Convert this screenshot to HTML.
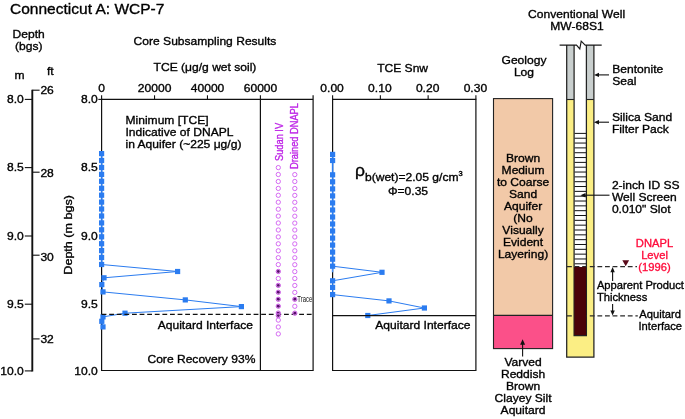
<!DOCTYPE html>
<html><head><meta charset="utf-8"><title>Connecticut A: WCP-7</title>
<style>
html,body{margin:0;padding:0;background:#fff;}
svg{display:block;font-family:"Liberation Sans",Arial,Helvetica,sans-serif;}
text{stroke-width:0.34px;paint-order:stroke;}
</style></head><body>
<svg width="685" height="419" viewBox="0 0 685 419">
<rect width="685" height="419" fill="#fff"/>
<text transform="translate(10,13.5) scale(1.015,1)" font-size="15.3" text-anchor="start" fill="#000" stroke="#000" >Connecticut A: WCP-7</text>
<text transform="translate(12.6,37.6) scale(1.032,1)" font-size="11.7" text-anchor="start" fill="#000" stroke="#000" >Depth</text>
<text transform="translate(15,49.7) scale(1.032,1)" font-size="11.7" text-anchor="start" fill="#000" stroke="#000" >(bgs)</text>
<text transform="translate(14.4,79.2) scale(1.032,1)" font-size="11.7" text-anchor="start" fill="#000" stroke="#000" >m</text>
<text transform="translate(47,75.2) scale(1.032,1)" font-size="11.7" text-anchor="start" fill="#000" stroke="#000" >ft</text>
<text transform="translate(205,44.5) scale(1.032,1)" font-size="11.7" text-anchor="middle" fill="#000" stroke="#000" >Core Subsampling Results</text>
<text transform="translate(205,70.9) scale(1.032,1)" font-size="11.7" text-anchor="middle" fill="#000" stroke="#000" >TCE (μg/g wet soil)</text>
<text transform="translate(402.6,71.5) scale(1.032,1)" font-size="11.7" text-anchor="middle" fill="#000" stroke="#000" >TCE Snw</text>
<line x1="32.3" y1="89.7" x2="32.3" y2="371.4" stroke="#111" stroke-width="1.9" />
<line x1="24.8" y1="99.4" x2="32.3" y2="99.4" stroke="#111" stroke-width="1.1" />
<text transform="translate(23.7,102.9) scale(1.032,1)" font-size="11.7" text-anchor="end" fill="#000" stroke="#000" >8.0</text>
<line x1="24.8" y1="167.6" x2="32.3" y2="167.6" stroke="#111" stroke-width="1.1" />
<text transform="translate(23.7,171.2) scale(1.032,1)" font-size="11.7" text-anchor="end" fill="#000" stroke="#000" >8.5</text>
<line x1="24.8" y1="236.0" x2="32.3" y2="236.0" stroke="#111" stroke-width="1.1" />
<text transform="translate(23.7,239.9) scale(1.032,1)" font-size="11.7" text-anchor="end" fill="#000" stroke="#000" >9.0</text>
<line x1="24.8" y1="304.2" x2="32.3" y2="304.2" stroke="#111" stroke-width="1.1" />
<text transform="translate(23.7,308.0) scale(1.032,1)" font-size="11.7" text-anchor="end" fill="#000" stroke="#000" >9.5</text>
<line x1="24.8" y1="370.9" x2="32.3" y2="370.9" stroke="#111" stroke-width="1.1" />
<text transform="translate(23.7,375.2) scale(1.032,1)" font-size="11.7" text-anchor="end" fill="#000" stroke="#000" >10.0</text>
<line x1="32.3" y1="90.2" x2="39.6" y2="90.2" stroke="#111" stroke-width="1.1" />
<text transform="translate(40.4,94.4) scale(1.032,1)" font-size="11.7" text-anchor="start" fill="#000" stroke="#000" >26</text>
<line x1="32.3" y1="172.2" x2="39.6" y2="172.2" stroke="#111" stroke-width="1.1" />
<text transform="translate(40.4,177.0) scale(1.032,1)" font-size="11.7" text-anchor="start" fill="#000" stroke="#000" >28</text>
<line x1="32.3" y1="255.2" x2="39.6" y2="255.2" stroke="#111" stroke-width="1.1" />
<text transform="translate(40.4,260.8) scale(1.032,1)" font-size="11.7" text-anchor="start" fill="#000" stroke="#000" >30</text>
<line x1="32.3" y1="338.9" x2="39.6" y2="338.9" stroke="#111" stroke-width="1.1" />
<text transform="translate(40.4,342.6) scale(1.032,1)" font-size="11.7" text-anchor="start" fill="#000" stroke="#000" >32</text>
<line x1="101.6" y1="99.4" x2="313.1" y2="99.4" stroke="#111" stroke-width="1.2" />
<line x1="101.6" y1="370.45" x2="313.1" y2="370.45" stroke="#111" stroke-width="1.05" />
<line x1="101.6" y1="98.80000000000001" x2="101.6" y2="371.05" stroke="#111" stroke-width="1.2" />
<line x1="313.1" y1="95.30000000000001" x2="313.1" y2="370.95" stroke="#111" stroke-width="1.2" />
<line x1="260.4" y1="99.4" x2="260.4" y2="370.45" stroke="#111" stroke-width="1.2" />
<line x1="101.6" y1="95.30000000000001" x2="101.6" y2="99.4" stroke="#111" stroke-width="1.1" />
<text transform="translate(101.69999999999999,91.7) scale(1.032,1)" font-size="11.7" text-anchor="middle" fill="#000" stroke="#000" >0</text>
<line x1="154.5333333333333" y1="95.30000000000001" x2="154.5333333333333" y2="99.4" stroke="#111" stroke-width="1.1" />
<text transform="translate(154.6333333333333,91.7) scale(1.032,1)" font-size="11.7" text-anchor="middle" fill="#000" stroke="#000" >20000</text>
<line x1="207.46666666666664" y1="95.30000000000001" x2="207.46666666666664" y2="99.4" stroke="#111" stroke-width="1.1" />
<text transform="translate(207.56666666666663,91.7) scale(1.032,1)" font-size="11.7" text-anchor="middle" fill="#000" stroke="#000" >40000</text>
<line x1="260.4" y1="95.30000000000001" x2="260.4" y2="99.4" stroke="#111" stroke-width="1.1" />
<text transform="translate(260.5,91.7) scale(1.032,1)" font-size="11.7" text-anchor="middle" fill="#000" stroke="#000" >60000</text>
<line x1="98.3" y1="99.4" x2="101.6" y2="99.4" stroke="#111" stroke-width="1.1" />
<text transform="translate(97.8,102.9) scale(1.032,1)" font-size="11.7" text-anchor="end" fill="#000" stroke="#000" >8.0</text>
<text transform="translate(97.8,171.2) scale(1.032,1)" font-size="11.7" text-anchor="end" fill="#000" stroke="#000" >8.5</text>
<text transform="translate(97.8,239.9) scale(1.032,1)" font-size="11.7" text-anchor="end" fill="#000" stroke="#000" >9.0</text>
<text transform="translate(97.8,308.0) scale(1.032,1)" font-size="11.7" text-anchor="end" fill="#000" stroke="#000" >9.5</text>
<text transform="translate(97.8,375.2) scale(1.032,1)" font-size="11.7" text-anchor="end" fill="#000" stroke="#000" >10.0</text>
<text transform="translate(71.9,234.9) rotate(-90) scale(1.075,1.0)" font-size="11.7" text-anchor="middle" stroke="#000">Depth (m bgs)</text>
<line x1="101.6" y1="153.6" x2="101.6" y2="264.48" stroke="#4a92f4" stroke-width="1.6"/>
<polyline fill="none" stroke="#2b7cf0" stroke-width="1" points="101.6,153.6 101.6,160.5 101.6,167.5 101.6,174.4 101.6,181.3 101.6,188.2 101.6,195.2 101.6,202.1 101.6,209.0 101.6,216.0 101.6,222.9 101.6,229.8 101.6,236.8 101.6,243.7 101.6,250.6 101.6,257.5 101.6,264.5 177.6,271.5 104.0,277.8 101.8,284.6 103.0,291.9 185.3,299.9 241.4,306.6 125.0,313.2 103.0,316.9 101.8,321.3 103.0,326.9"/>
<rect x="99.0" y="151.0" width="5.2" height="5.2" fill="#2b7cf0"/>
<rect x="99.0" y="157.9" width="5.2" height="5.2" fill="#2b7cf0"/>
<rect x="99.0" y="164.9" width="5.2" height="5.2" fill="#2b7cf0"/>
<rect x="99.0" y="171.8" width="5.2" height="5.2" fill="#2b7cf0"/>
<rect x="99.0" y="178.7" width="5.2" height="5.2" fill="#2b7cf0"/>
<rect x="99.0" y="185.7" width="5.2" height="5.2" fill="#2b7cf0"/>
<rect x="99.0" y="192.6" width="5.2" height="5.2" fill="#2b7cf0"/>
<rect x="99.0" y="199.5" width="5.2" height="5.2" fill="#2b7cf0"/>
<rect x="99.0" y="206.4" width="5.2" height="5.2" fill="#2b7cf0"/>
<rect x="99.0" y="213.4" width="5.2" height="5.2" fill="#2b7cf0"/>
<rect x="99.0" y="220.3" width="5.2" height="5.2" fill="#2b7cf0"/>
<rect x="99.0" y="227.2" width="5.2" height="5.2" fill="#2b7cf0"/>
<rect x="99.0" y="234.2" width="5.2" height="5.2" fill="#2b7cf0"/>
<rect x="99.0" y="241.1" width="5.2" height="5.2" fill="#2b7cf0"/>
<rect x="99.0" y="248.0" width="5.2" height="5.2" fill="#2b7cf0"/>
<rect x="99.0" y="254.9" width="5.2" height="5.2" fill="#2b7cf0"/>
<rect x="99.0" y="261.9" width="5.2" height="5.2" fill="#2b7cf0"/>
<rect x="175.0" y="268.9" width="5.2" height="5.2" fill="#2b7cf0"/>
<rect x="101.4" y="275.2" width="5.2" height="5.2" fill="#2b7cf0"/>
<rect x="99.2" y="282.0" width="5.2" height="5.2" fill="#2b7cf0"/>
<rect x="100.4" y="289.3" width="5.2" height="5.2" fill="#2b7cf0"/>
<rect x="182.7" y="297.3" width="5.2" height="5.2" fill="#2b7cf0"/>
<rect x="238.8" y="304.0" width="5.2" height="5.2" fill="#2b7cf0"/>
<rect x="122.4" y="310.6" width="5.2" height="5.2" fill="#2b7cf0"/>
<rect x="100.4" y="314.3" width="5.2" height="5.2" fill="#2b7cf0"/>
<rect x="99.2" y="318.7" width="5.2" height="5.2" fill="#2b7cf0"/>
<rect x="100.4" y="324.3" width="5.2" height="5.2" fill="#2b7cf0"/>
<line x1="101.6" y1="314.3" x2="313.1" y2="314.3" stroke="#111" stroke-width="1.2" stroke-dasharray="4.8,2.8"/>
<text transform="translate(205.3,328.5) scale(1.032,1)" font-size="11.7" text-anchor="middle" fill="#000" stroke="#000" >Aquitard Interface</text>
<text transform="translate(201.4,362.5) scale(1.032,1)" font-size="11.7" text-anchor="middle" fill="#000" stroke="#000" >Core Recovery 93%</text>
<text transform="translate(125.5,123.6) scale(1.032,1)" font-size="11.7" text-anchor="start" fill="#000" stroke="#000" >Minimum [TCE]</text>
<text transform="translate(125.5,135.9) scale(1.032,1)" font-size="11.7" text-anchor="start" fill="#000" stroke="#000" >Indicative of DNAPL</text>
<text transform="translate(125.5,148.1) scale(1.032,1)" font-size="11.7" text-anchor="start" fill="#000" stroke="#000" >in Aquifer (~225 μg/g)</text>
<circle cx="278.3" cy="167.6" r="2.15" fill="#fff" stroke="#d05cf0" stroke-width="0.9"/>
<circle cx="278.3" cy="174.5" r="2.15" fill="#fff" stroke="#d05cf0" stroke-width="0.9"/>
<circle cx="278.3" cy="181.5" r="2.15" fill="#fff" stroke="#d05cf0" stroke-width="0.9"/>
<circle cx="278.3" cy="188.4" r="2.15" fill="#fff" stroke="#d05cf0" stroke-width="0.9"/>
<circle cx="278.3" cy="195.3" r="2.15" fill="#fff" stroke="#d05cf0" stroke-width="0.9"/>
<circle cx="278.3" cy="202.2" r="2.15" fill="#fff" stroke="#d05cf0" stroke-width="0.9"/>
<circle cx="278.3" cy="209.2" r="2.15" fill="#fff" stroke="#d05cf0" stroke-width="0.9"/>
<circle cx="278.3" cy="216.1" r="2.15" fill="#fff" stroke="#d05cf0" stroke-width="0.9"/>
<circle cx="278.3" cy="223.0" r="2.15" fill="#fff" stroke="#d05cf0" stroke-width="0.9"/>
<circle cx="278.3" cy="230.0" r="2.15" fill="#fff" stroke="#d05cf0" stroke-width="0.9"/>
<circle cx="278.3" cy="236.9" r="2.15" fill="#fff" stroke="#d05cf0" stroke-width="0.9"/>
<circle cx="278.3" cy="243.8" r="2.15" fill="#fff" stroke="#d05cf0" stroke-width="0.9"/>
<circle cx="278.3" cy="250.8" r="2.15" fill="#fff" stroke="#d05cf0" stroke-width="0.9"/>
<circle cx="278.3" cy="257.7" r="2.15" fill="#fff" stroke="#d05cf0" stroke-width="0.9"/>
<circle cx="278.3" cy="264.6" r="2.15" fill="#fff" stroke="#d05cf0" stroke-width="0.9"/>
<circle cx="278.3" cy="271.5" r="2.15" fill="#fff" stroke="#c040dc" stroke-width="0.9"/>
<circle cx="278.3" cy="271.5" r="1.45" fill="#5a0a70"/>
<circle cx="278.3" cy="278.5" r="2.15" fill="#fff" stroke="#d05cf0" stroke-width="0.9"/>
<circle cx="278.3" cy="285.4" r="2.15" fill="#fff" stroke="#c040dc" stroke-width="0.9"/>
<circle cx="278.3" cy="285.4" r="1.45" fill="#5a0a70"/>
<circle cx="278.3" cy="292.3" r="2.15" fill="#fff" stroke="#c040dc" stroke-width="0.9"/>
<circle cx="278.3" cy="292.3" r="1.45" fill="#5a0a70"/>
<circle cx="278.3" cy="299.3" r="2.15" fill="#fff" stroke="#c040dc" stroke-width="0.9"/>
<circle cx="278.3" cy="299.3" r="1.45" fill="#5a0a70"/>
<circle cx="278.3" cy="306.2" r="2.15" fill="#fff" stroke="#c040dc" stroke-width="0.9"/>
<circle cx="278.3" cy="306.2" r="1.45" fill="#5a0a70"/>
<circle cx="278.3" cy="313.1" r="2.15" fill="#fff" stroke="#c040dc" stroke-width="0.9"/>
<circle cx="278.3" cy="313.1" r="1.45" fill="#5a0a70"/>
<circle cx="278.3" cy="320.1" r="2.15" fill="#fff" stroke="#d05cf0" stroke-width="0.9"/>
<circle cx="278.3" cy="327.0" r="2.15" fill="#fff" stroke="#d05cf0" stroke-width="0.9"/>
<circle cx="278.3" cy="333.9" r="2.15" fill="#fff" stroke="#d05cf0" stroke-width="0.9"/>
<circle cx="278.3" cy="315.6" r="2.15" fill="#fff" stroke="#c040dc" stroke-width="0.9"/>
<circle cx="278.3" cy="315.6" r="1.45" fill="#5a0a70"/>
<circle cx="294.8" cy="174.6" r="2.15" fill="#fff" stroke="#d05cf0" stroke-width="0.9"/>
<circle cx="294.8" cy="181.5" r="2.15" fill="#fff" stroke="#d05cf0" stroke-width="0.9"/>
<circle cx="294.8" cy="188.5" r="2.15" fill="#fff" stroke="#d05cf0" stroke-width="0.9"/>
<circle cx="294.8" cy="195.4" r="2.15" fill="#fff" stroke="#d05cf0" stroke-width="0.9"/>
<circle cx="294.8" cy="202.3" r="2.15" fill="#fff" stroke="#d05cf0" stroke-width="0.9"/>
<circle cx="294.8" cy="209.2" r="2.15" fill="#fff" stroke="#d05cf0" stroke-width="0.9"/>
<circle cx="294.8" cy="216.2" r="2.15" fill="#fff" stroke="#d05cf0" stroke-width="0.9"/>
<circle cx="294.8" cy="223.1" r="2.15" fill="#fff" stroke="#d05cf0" stroke-width="0.9"/>
<circle cx="294.8" cy="230.0" r="2.15" fill="#fff" stroke="#d05cf0" stroke-width="0.9"/>
<circle cx="294.8" cy="237.0" r="2.15" fill="#fff" stroke="#d05cf0" stroke-width="0.9"/>
<circle cx="294.8" cy="243.9" r="2.15" fill="#fff" stroke="#d05cf0" stroke-width="0.9"/>
<circle cx="294.8" cy="250.8" r="2.15" fill="#fff" stroke="#d05cf0" stroke-width="0.9"/>
<circle cx="294.8" cy="257.8" r="2.15" fill="#fff" stroke="#d05cf0" stroke-width="0.9"/>
<circle cx="294.8" cy="264.7" r="2.15" fill="#fff" stroke="#d05cf0" stroke-width="0.9"/>
<circle cx="294.8" cy="271.6" r="2.15" fill="#fff" stroke="#d05cf0" stroke-width="0.9"/>
<circle cx="294.8" cy="278.5" r="2.15" fill="#fff" stroke="#d05cf0" stroke-width="0.9"/>
<circle cx="294.8" cy="285.5" r="2.15" fill="#fff" stroke="#d05cf0" stroke-width="0.9"/>
<circle cx="294.8" cy="292.4" r="2.15" fill="#fff" stroke="#d05cf0" stroke-width="0.9"/>
<circle cx="294.8" cy="299.3" r="2.15" fill="#fff" stroke="#c040dc" stroke-width="0.9"/>
<circle cx="294.8" cy="299.3" r="1.45" fill="#5a0a70"/>
<circle cx="294.8" cy="306.3" r="2.15" fill="#fff" stroke="#d05cf0" stroke-width="0.9"/>
<circle cx="294.8" cy="313.2" r="2.15" fill="#fff" stroke="#c040dc" stroke-width="0.9"/>
<circle cx="294.8" cy="313.2" r="1.45" fill="#5a0a70"/>
<text transform="translate(283.0,161) rotate(-90) scale(0.82,1)" font-size="11.3" fill="#bd22e6" stroke="#bd22e6">Sudan IV</text>
<text transform="translate(297.6,169) rotate(-90) scale(0.82,1)" font-size="11.3" fill="#bd22e6" stroke="#bd22e6">Drained DNAPL</text>
<text transform="translate(297.3,301.6) scale(0.7,1)" font-size="8.5" fill="#111">Trace</text>
<line x1="332.6" y1="99.4" x2="475.9" y2="99.4" stroke="#111" stroke-width="1.2" />
<line x1="332.6" y1="370.45" x2="475.9" y2="370.45" stroke="#111" stroke-width="1.05" />
<line x1="332.6" y1="98.80000000000001" x2="332.6" y2="371.05" stroke="#111" stroke-width="1.2" />
<line x1="475.9" y1="98.80000000000001" x2="475.9" y2="371.05" stroke="#111" stroke-width="1.2" />
<line x1="332.6" y1="95.30000000000001" x2="332.6" y2="99.4" stroke="#111" stroke-width="1.1" />
<text transform="translate(332.1,91.7) scale(1.032,1)" font-size="11.7" text-anchor="middle" fill="#000" stroke="#000" >0.00</text>
<line x1="380.3666666666667" y1="95.30000000000001" x2="380.3666666666667" y2="99.4" stroke="#111" stroke-width="1.1" />
<text transform="translate(379.8666666666667,91.7) scale(1.032,1)" font-size="11.7" text-anchor="middle" fill="#000" stroke="#000" >0.10</text>
<line x1="428.1333333333333" y1="95.30000000000001" x2="428.1333333333333" y2="99.4" stroke="#111" stroke-width="1.1" />
<text transform="translate(427.6333333333333,91.7) scale(1.032,1)" font-size="11.7" text-anchor="middle" fill="#000" stroke="#000" >0.20</text>
<line x1="475.9" y1="95.30000000000001" x2="475.9" y2="99.4" stroke="#111" stroke-width="1.1" />
<text transform="translate(475.4,91.7) scale(1.032,1)" font-size="11.7" text-anchor="middle" fill="#000" stroke="#000" >0.30</text>
<line x1="332.6" y1="154.4" x2="332.6" y2="272.3" stroke="#4a92f4" stroke-width="1.6"/>
<polyline fill="none" stroke="#2b7cf0" stroke-width="1" points="332.6,154.4 332.6,160.5 332.6,174.8 332.6,181.8 332.6,188.9 332.6,195.9 332.6,202.9 332.6,210.0 332.6,217.0 332.6,224.0 332.6,231.0 332.6,238.1 332.6,245.1 332.6,252.1 332.6,259.2 332.6,266.2 382.0,272.3 332.6,280.8 332.6,287.4 332.6,294.6 389.0,300.9 424.4,308.0 367.8,315.5"/>
<rect x="330.0" y="151.8" width="5.2" height="5.2" fill="#2b7cf0"/>
<rect x="330.0" y="157.9" width="5.2" height="5.2" fill="#2b7cf0"/>
<rect x="330.0" y="172.2" width="5.2" height="5.2" fill="#2b7cf0"/>
<rect x="330.0" y="179.2" width="5.2" height="5.2" fill="#2b7cf0"/>
<rect x="330.0" y="186.3" width="5.2" height="5.2" fill="#2b7cf0"/>
<rect x="330.0" y="193.3" width="5.2" height="5.2" fill="#2b7cf0"/>
<rect x="330.0" y="200.3" width="5.2" height="5.2" fill="#2b7cf0"/>
<rect x="330.0" y="207.4" width="5.2" height="5.2" fill="#2b7cf0"/>
<rect x="330.0" y="214.4" width="5.2" height="5.2" fill="#2b7cf0"/>
<rect x="330.0" y="221.4" width="5.2" height="5.2" fill="#2b7cf0"/>
<rect x="330.0" y="228.4" width="5.2" height="5.2" fill="#2b7cf0"/>
<rect x="330.0" y="235.5" width="5.2" height="5.2" fill="#2b7cf0"/>
<rect x="330.0" y="242.5" width="5.2" height="5.2" fill="#2b7cf0"/>
<rect x="330.0" y="249.5" width="5.2" height="5.2" fill="#2b7cf0"/>
<rect x="330.0" y="256.6" width="5.2" height="5.2" fill="#2b7cf0"/>
<rect x="330.0" y="263.6" width="5.2" height="5.2" fill="#2b7cf0"/>
<rect x="379.4" y="269.7" width="5.2" height="5.2" fill="#2b7cf0"/>
<rect x="330.0" y="278.2" width="5.2" height="5.2" fill="#2b7cf0"/>
<rect x="330.0" y="284.8" width="5.2" height="5.2" fill="#2b7cf0"/>
<rect x="330.0" y="292.0" width="5.2" height="5.2" fill="#2b7cf0"/>
<rect x="386.4" y="298.3" width="5.2" height="5.2" fill="#2b7cf0"/>
<rect x="421.8" y="305.4" width="5.2" height="5.2" fill="#2b7cf0"/>
<rect x="365.2" y="312.9" width="5.2" height="5.2" fill="#2b7cf0"/>
<line x1="332.6" y1="315.6" x2="475.9" y2="315.6" stroke="#111" stroke-width="1.2" />
<text transform="translate(422.9,328.9) scale(1.032,1)" font-size="11.7" text-anchor="middle" fill="#000" stroke="#000" >Aquitard Interface</text>
<text transform="translate(355,176.4) scale(1.032,1)" font-size="17" stroke="#000">ρ<tspan font-size="11.7" dy="4.2">b(wet)=2.05 g/cm</tspan><tspan font-size="7.3" dy="-4.7">3</tspan></text>
<text transform="translate(408,195.2) scale(1.032,1)" font-size="11.7" text-anchor="middle" fill="#000" stroke="#000" >Φ=0.35</text>
<rect x="493.5" y="98.6" width="59.10000000000002" height="216.79999999999998" fill="#f2c9a8"/>
<rect x="493.5" y="315.4" width="59.10000000000002" height="33.200000000000045" fill="#fb5089"/>
<rect x="493.5" y="98.6" width="59.10000000000002" height="250.00000000000003" fill="none" stroke="#222" stroke-width="1.1"/>
<line x1="493.5" y1="315.4" x2="552.6" y2="315.4" stroke="#222" stroke-width="1.1" />
<text transform="translate(523.9499999999999,64.2) scale(1.032,1)" font-size="11.7" text-anchor="middle" fill="#000" stroke="#000" >Geology</text>
<text transform="translate(523.9499999999999,75.9) scale(1.032,1)" font-size="11.7" text-anchor="middle" fill="#000" stroke="#000" >Log</text>
<text transform="translate(523.05,162.0) scale(1.032,1)" font-size="11.7" text-anchor="middle" fill="#000" stroke="#000" >Brown</text>
<text transform="translate(523.05,174.03) scale(1.032,1)" font-size="11.7" text-anchor="middle" fill="#000" stroke="#000" >Medium</text>
<text transform="translate(523.05,186.06) scale(1.032,1)" font-size="11.7" text-anchor="middle" fill="#000" stroke="#000" >to Coarse</text>
<text transform="translate(523.05,198.09) scale(1.032,1)" font-size="11.7" text-anchor="middle" fill="#000" stroke="#000" >Sand</text>
<text transform="translate(523.05,210.12) scale(1.032,1)" font-size="11.7" text-anchor="middle" fill="#000" stroke="#000" >Aquifer</text>
<text transform="translate(523.05,222.15) scale(1.032,1)" font-size="11.7" text-anchor="middle" fill="#000" stroke="#000" >(No</text>
<text transform="translate(523.05,234.18) scale(1.032,1)" font-size="11.7" text-anchor="middle" fill="#000" stroke="#000" >Visually</text>
<text transform="translate(523.05,246.20999999999998) scale(1.032,1)" font-size="11.7" text-anchor="middle" fill="#000" stroke="#000" >Evident</text>
<text transform="translate(523.05,258.24) scale(1.032,1)" font-size="11.7" text-anchor="middle" fill="#000" stroke="#000" >Layering)</text>
<text transform="translate(523.05,365.7) scale(1.032,1)" font-size="11.7" text-anchor="middle" fill="#000" stroke="#000" >Varved</text>
<text transform="translate(523.05,377.65) scale(1.032,1)" font-size="11.7" text-anchor="middle" fill="#000" stroke="#000" >Reddish</text>
<text transform="translate(523.05,389.59999999999997) scale(1.032,1)" font-size="11.7" text-anchor="middle" fill="#000" stroke="#000" >Brown</text>
<text transform="translate(523.05,401.54999999999995) scale(1.032,1)" font-size="11.7" text-anchor="middle" fill="#000" stroke="#000" >Clayey Silt</text>
<text transform="translate(523.05,413.5) scale(1.032,1)" font-size="11.7" text-anchor="middle" fill="#000" stroke="#000" >Aquitard</text>
<line x1="522.6" y1="356.4" x2="522.6" y2="342" stroke="#111" stroke-width="1.1" />
<path d="M522.6 339.2 L520.1 344.8 L525.1 344.8 Z" fill="#111"/>
<text transform="translate(576.6,18) scale(1.032,1)" font-size="11.7" text-anchor="middle" fill="#000" stroke="#000" >Conventional Well</text>
<text transform="translate(577,30) scale(1.032,1)" font-size="11.7" text-anchor="middle" fill="#000" stroke="#000" >MW-68S1</text>
<rect x="566.7" y="45" width="27.199999999999932" height="312" fill="#fbee84"/>
<rect x="566.7" y="45" width="7.399999999999977" height="54.5" fill="#c9cfce"/>
<rect x="586.4" y="45" width="7.5" height="54.5" fill="#c9cfce"/>
<rect x="574.1" y="45" width="12.299999999999955" height="222" fill="#fff"/>
<rect x="574.1" y="267" width="12.299999999999955" height="68" fill="#4b0308"/>
<path d="M566.7 45 V357 H593.9 V45" fill="none" stroke="#222" stroke-width="1.25"/>
<path d="M574.1 45 V335.5 H586.4 V45" fill="none" stroke="#222" stroke-width="1.25"/>
<line x1="566.7" y1="99.5" x2="574.1" y2="99.5" stroke="#222" stroke-width="1.1" />
<line x1="586.4" y1="99.5" x2="593.9" y2="99.5" stroke="#222" stroke-width="1.1" />
<path d="M559.6 45.1 H576.5 L579.8 48.9 L581.2 41.2 L585.2 45.1 H601.7" fill="none" stroke="#1a1a1a" stroke-width="1.15" stroke-linejoin="miter" stroke-miterlimit="10"/>
<line x1="574.6" y1="133.4" x2="586.2" y2="133.4" stroke="#111" stroke-width="1.0" />
<line x1="574.6" y1="138.23000000000002" x2="586.2" y2="138.23000000000002" stroke="#111" stroke-width="1.0" />
<line x1="574.6" y1="143.06000000000003" x2="586.2" y2="143.06000000000003" stroke="#111" stroke-width="1.0" />
<line x1="574.6" y1="147.89000000000004" x2="586.2" y2="147.89000000000004" stroke="#111" stroke-width="1.0" />
<line x1="574.6" y1="152.72000000000006" x2="586.2" y2="152.72000000000006" stroke="#111" stroke-width="1.0" />
<line x1="574.6" y1="157.55000000000007" x2="586.2" y2="157.55000000000007" stroke="#111" stroke-width="1.0" />
<line x1="574.6" y1="162.38000000000008" x2="586.2" y2="162.38000000000008" stroke="#111" stroke-width="1.0" />
<line x1="574.6" y1="167.2100000000001" x2="586.2" y2="167.2100000000001" stroke="#111" stroke-width="1.0" />
<line x1="574.6" y1="172.0400000000001" x2="586.2" y2="172.0400000000001" stroke="#111" stroke-width="1.0" />
<line x1="574.6" y1="176.87000000000012" x2="586.2" y2="176.87000000000012" stroke="#111" stroke-width="1.0" />
<line x1="574.6" y1="181.70000000000013" x2="586.2" y2="181.70000000000013" stroke="#111" stroke-width="1.0" />
<line x1="574.6" y1="186.53000000000014" x2="586.2" y2="186.53000000000014" stroke="#111" stroke-width="1.0" />
<line x1="574.6" y1="191.36000000000016" x2="586.2" y2="191.36000000000016" stroke="#111" stroke-width="1.0" />
<line x1="574.6" y1="196.19000000000017" x2="586.2" y2="196.19000000000017" stroke="#111" stroke-width="1.0" />
<line x1="574.6" y1="201.02000000000018" x2="586.2" y2="201.02000000000018" stroke="#111" stroke-width="1.0" />
<line x1="574.6" y1="205.8500000000002" x2="586.2" y2="205.8500000000002" stroke="#111" stroke-width="1.0" />
<line x1="574.6" y1="210.6800000000002" x2="586.2" y2="210.6800000000002" stroke="#111" stroke-width="1.0" />
<line x1="574.6" y1="215.51000000000022" x2="586.2" y2="215.51000000000022" stroke="#111" stroke-width="1.0" />
<line x1="574.6" y1="220.34000000000023" x2="586.2" y2="220.34000000000023" stroke="#111" stroke-width="1.0" />
<line x1="574.6" y1="225.17000000000024" x2="586.2" y2="225.17000000000024" stroke="#111" stroke-width="1.0" />
<line x1="574.6" y1="230.00000000000026" x2="586.2" y2="230.00000000000026" stroke="#111" stroke-width="1.0" />
<line x1="574.6" y1="234.83000000000027" x2="586.2" y2="234.83000000000027" stroke="#111" stroke-width="1.0" />
<line x1="574.6" y1="239.66000000000028" x2="586.2" y2="239.66000000000028" stroke="#111" stroke-width="1.0" />
<line x1="574.6" y1="244.4900000000003" x2="586.2" y2="244.4900000000003" stroke="#111" stroke-width="1.0" />
<line x1="574.6" y1="249.3200000000003" x2="586.2" y2="249.3200000000003" stroke="#111" stroke-width="1.0" />
<line x1="574.6" y1="254.15000000000032" x2="586.2" y2="254.15000000000032" stroke="#111" stroke-width="1.0" />
<line x1="574.6" y1="258.9800000000003" x2="586.2" y2="258.9800000000003" stroke="#111" stroke-width="1.0" />
<line x1="574.6" y1="263.8100000000003" x2="586.2" y2="263.8100000000003" stroke="#111" stroke-width="1.0" />
<line x1="567" y1="266.6" x2="637" y2="266.6" stroke="#2a2a2a" stroke-width="1.3" stroke-dasharray="4.8,2.8"/>
<line x1="567" y1="315.9" x2="637.8" y2="315.9" stroke="#2a2a2a" stroke-width="1.3" stroke-dasharray="4.8,2.8"/>
<rect x="574.6" y="267.3" width="11.299999999999955" height="67.69999999999999" fill="#4b0308"/>
<text transform="translate(612.3,73) scale(1.032,1)" font-size="11.7" text-anchor="start" fill="#000" stroke="#000" >Bentonite</text>
<text transform="translate(612.3,85) scale(1.032,1)" font-size="11.7" text-anchor="start" fill="#000" stroke="#000" >Seal</text>
<line x1="609.0" y1="74.9" x2="597.0" y2="74.9" stroke="#111" stroke-width="1.1" />
<path d="M594.0 74.9 L599.0 72.7 L599.0 77.10000000000001 Z" fill="#111"/>
<text transform="translate(611.9,121.1) scale(1.032,1)" font-size="11.7" text-anchor="start" fill="#000" stroke="#000" >Silica Sand</text>
<text transform="translate(611.9,132.9) scale(1.032,1)" font-size="11.7" text-anchor="start" fill="#000" stroke="#000" >Filter Pack</text>
<line x1="609.0" y1="122.2" x2="597.0" y2="122.2" stroke="#111" stroke-width="1.1" />
<path d="M594.0 122.2 L599.0 120.0 L599.0 124.4 Z" fill="#111"/>
<text transform="translate(611.9,188.6) scale(1.032,1)" font-size="11.7" text-anchor="start" fill="#000" stroke="#000" >2-inch ID SS</text>
<text transform="translate(611.9,200.7) scale(1.032,1)" font-size="11.7" text-anchor="start" fill="#000" stroke="#000" >Well Screen</text>
<text transform="translate(611.9,212.7) scale(1.032,1)" font-size="11.7" text-anchor="start" fill="#000" stroke="#000" >0.010" Slot</text>
<line x1="609.5" y1="195.2" x2="583.5" y2="195.2" stroke="#111" stroke-width="1.1" />
<path d="M580.5 195.2 L585.5 193.0 L585.5 197.39999999999998 Z" fill="#111"/>
<text transform="translate(654.5,246.6) scale(0.957,1)" font-size="11.7" text-anchor="middle" fill="#ff0a3a" stroke="#ff0a3a" >DNAPL</text>
<text transform="translate(654.5,258.6) scale(0.957,1)" font-size="11.7" text-anchor="middle" fill="#ff0a3a" stroke="#ff0a3a" >Level</text>
<text transform="translate(654.5,270.6) scale(0.957,1)" font-size="11.7" text-anchor="middle" fill="#ff0a3a" stroke="#ff0a3a" >(1996)</text>
<path d="M622.3 260.2 H629.1 L625.7 266.2 Z" fill="#5a0a1a"/>
<text transform="translate(596.9,289.3) scale(0.957,1)" font-size="11.7" text-anchor="start" fill="#000" stroke="#000" >Apparent Product</text>
<text transform="translate(596.9,301.4) scale(0.957,1)" font-size="11.7" text-anchor="start" fill="#000" stroke="#000" >Thickness</text>
<line x1="612.6" y1="270" x2="612.6" y2="281" stroke="#111" stroke-width="1.1" />
<path d="M612.6 267.0 L610.4 272.3 L614.8 272.3 Z" fill="#111"/>
<line x1="612.6" y1="303.9" x2="612.6" y2="312.8" stroke="#111" stroke-width="1.1" />
<path d="M612.6 315.6 L610.4 310.4 L614.8 310.4 Z" fill="#111"/>
<text transform="translate(639.3,317.8) scale(0.957,1)" font-size="11.7" text-anchor="start" fill="#000" stroke="#000" >Aquitard</text>
<text transform="translate(638.5,330.2) scale(0.957,1)" font-size="11.7" text-anchor="start" fill="#000" stroke="#000" >Interface</text>
</svg>
</body></html>
